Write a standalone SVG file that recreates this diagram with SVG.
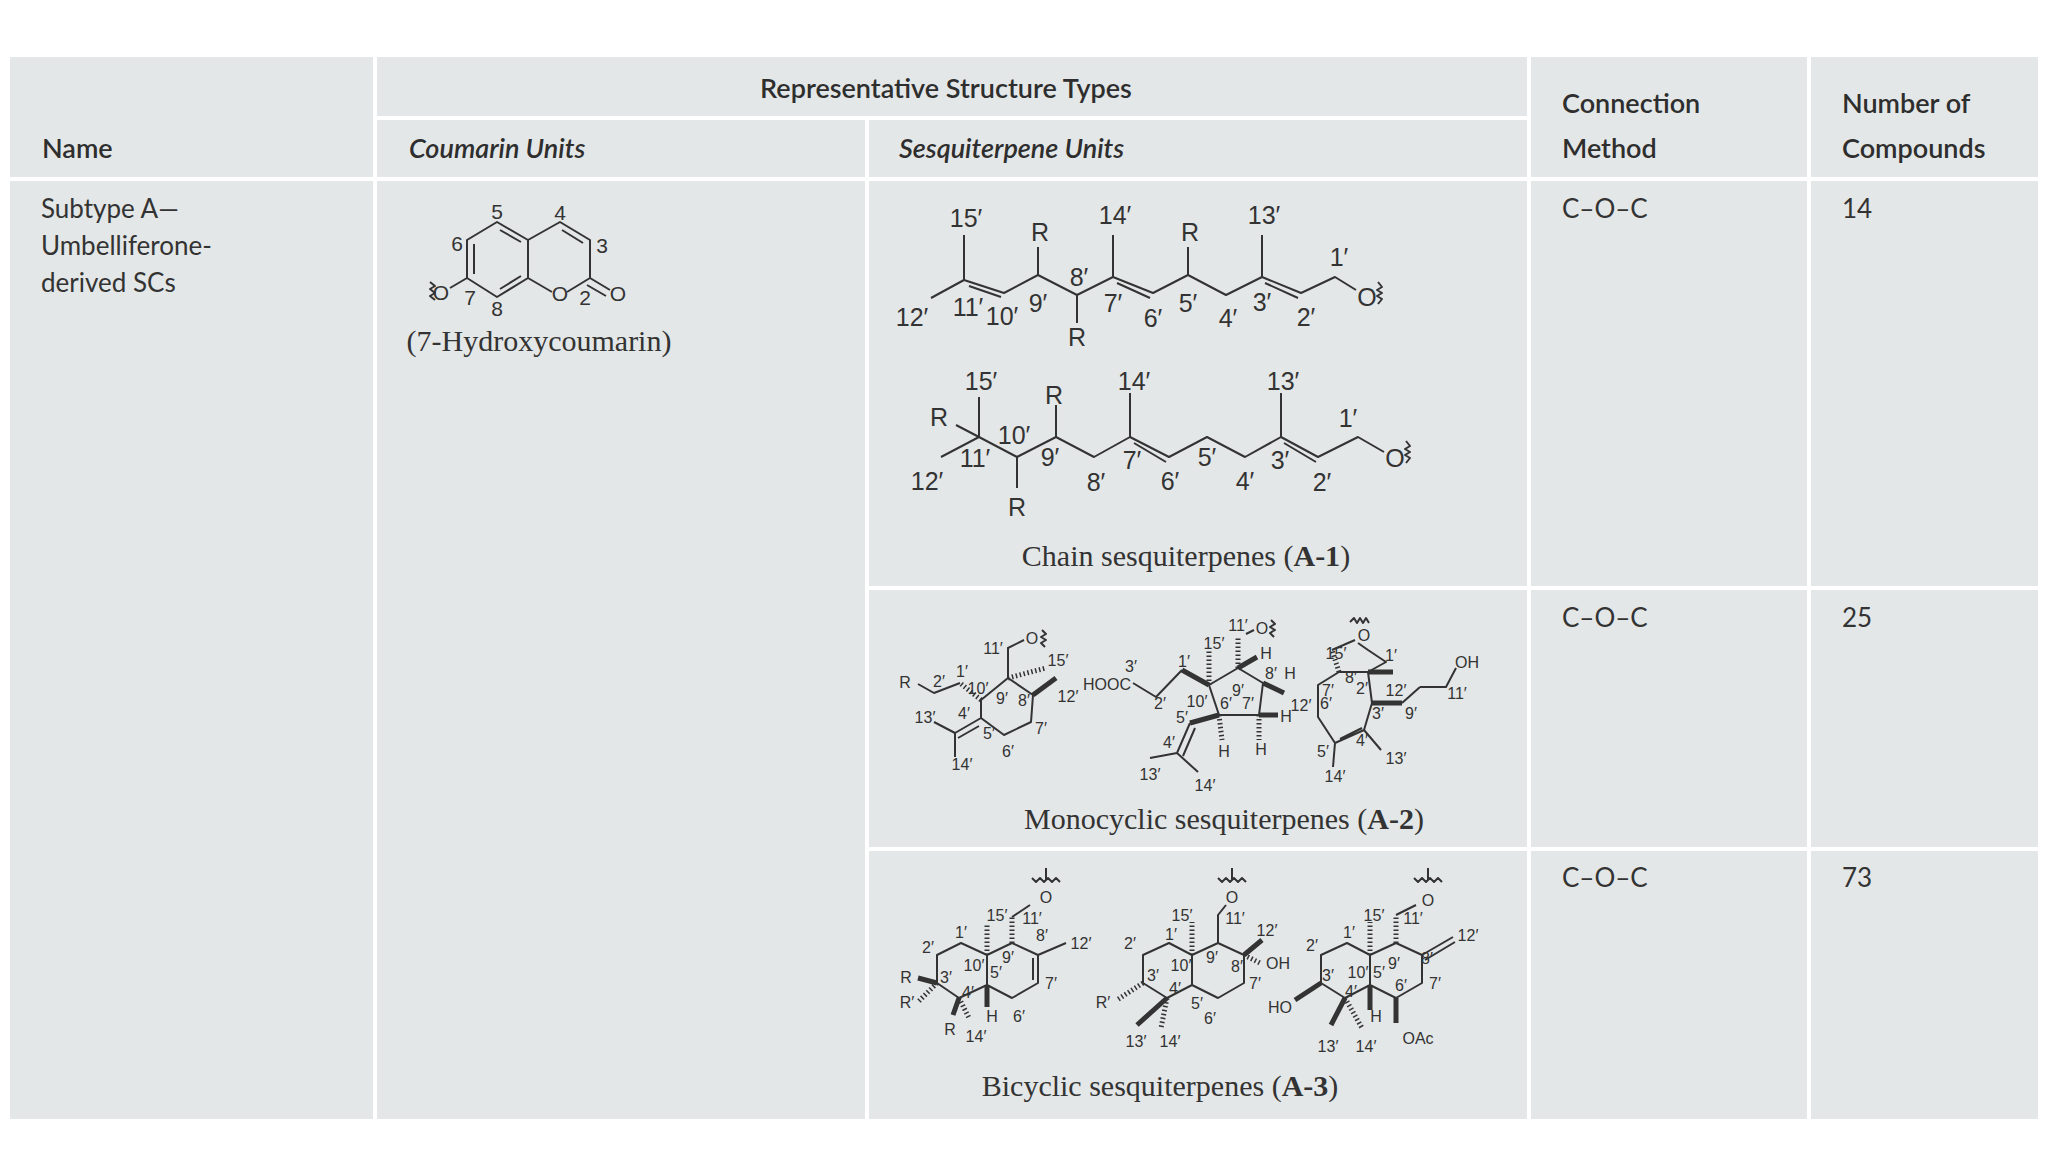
<svg xmlns="http://www.w3.org/2000/svg" width="2048" height="1152" viewBox="0 0 2048 1152">
<style>
.h{font-family:Lato,"Open Sans",sans-serif;font-size:27px;fill:#2e2e2e;font-weight:600}
.hi{font-family:Lato,"Open Sans",sans-serif;font-size:27px;fill:#2e2e2e;font-weight:600;font-style:italic}
.t{font-family:Lato,"Open Sans",sans-serif;font-size:26px;fill:#333}
.cap{font-family:"Liberation Serif",serif;font-size:30px;fill:#333;text-anchor:middle}
.l{font-family:"Liberation Sans",Arial,sans-serif;font-size:25px;fill:#333;text-anchor:middle;dominant-baseline:central}
.s{font-family:"Liberation Sans",Arial,sans-serif;font-size:16px;fill:#333;text-anchor:middle;dominant-baseline:central}
.b{stroke:#333;stroke-width:2;fill:none;stroke-linejoin:round}
.w{stroke:#333;stroke-width:5;fill:none}
.hs{stroke:#333;stroke-width:5;stroke-dasharray:1.5 2.5;fill:none}
.g{stroke:#fff;stroke-width:4}
</style>
<rect width="2048" height="1152" fill="#fff"/>
<rect x="10" y="57" width="2028" height="1062" fill="#e4e7e7"/>
<g id="grid">
<line class="g" x1="375" y1="57" x2="375" y2="1119"/>
<line class="g" x1="867" y1="118" x2="867" y2="1119"/>
<line class="g" x1="1529" y1="57" x2="1529" y2="1119"/>
<line class="g" x1="1809" y1="57" x2="1809" y2="1119"/>
<line class="g" x1="375" y1="118" x2="1529" y2="118"/>
<line class="g" x1="10" y1="179" x2="2038" y2="179"/>
<line class="g" x1="867" y1="588" x2="2038" y2="588"/>
<line class="g" x1="867" y1="849" x2="2038" y2="849"/>
</g>
<g id="headers">
<text class="h" x="946" y="98" text-anchor="middle">Representative Structure Types</text>
<text class="h" x="42" y="158">Name</text>
<text class="hi" x="409" y="158">Coumarin Units</text>
<text class="hi" x="899" y="158">Sesquiterpene Units</text>
<text class="h" x="1562" y="113">Connection</text>
<text class="h" x="1562" y="158">Method</text>
<text class="h" x="1842" y="113">Number of</text>
<text class="h" x="1842" y="158">Compounds</text>
</g>
<g id="cells">
<text class="t" x="41" y="218">Subtype A—</text>
<text class="t" x="41" y="255">Umbelliferone-</text>
<text class="t" x="41" y="292">derived SCs</text>
<text class="t" x="1562" y="218">C–O–C</text>
<text class="t" x="1842" y="218">14</text>
<text class="t" x="1562" y="627">C–O–C</text>
<text class="t" x="1842" y="627">25</text>
<text class="t" x="1562" y="887">C–O–C</text>
<text class="t" x="1842" y="887">73</text>
</g>
<g id="coumarin">
<path class="b" d="M497,222 L528,240 L528,278 L497,297 L467,278 L467,240 Z M528,240 L560,222 L590,240 L590,278 M528,278 L552,292 M567,292 L590,278"/>
<path class="b" d="M500,230 L521,242 M474,244 L474,274 M500,289 L521,276 M562,230 L583,243 M590,278 L610,290 M587,285 L606,296 M467,278 L450,288"/>
<path class="b" d="M430,282 l5,4 l-5,3 l5,4 l-5,3 l5,4"/>
<text class="l" style="font-size:21px" x="497" y="211">5</text>
<text class="l" style="font-size:21px" x="560" y="212">4</text>
<text class="l" style="font-size:21px" x="602" y="245">3</text>
<text class="l" style="font-size:21px" x="457" y="243">6</text>
<text class="l" style="font-size:21px" x="470" y="297">7</text>
<text class="l" style="font-size:21px" x="497" y="308">8</text>
<text class="l" style="font-size:21px" x="585" y="297">2</text>
<text class="l" style="font-size:21px" x="560" y="293">O</text>
<text class="l" style="font-size:21px" x="618" y="293">O</text>
<text class="l" style="font-size:21px" x="441" y="292">O</text>
<text class="cap" x="539" y="351">(7-Hydroxycoumarin)</text>
</g>
<g id="chain1">
<path class="b" d="M931,298 L964,280 L1004,293 L1038,275 L1077,295 L1113,277 L1153,293 L1188,275 L1226,295 L1262,277 L1301,293 L1335,277 L1356,290"/>
<path class="b" d="M969,286 L1001,297 M1117,283 L1150,298 M1265,283 L1298,298 M964,280 V235 M1038,275 V247 M1077,295 V323 M1113,277 V235 M1188,275 V247 M1262,277 V235"/>
<path class="b" d="M1378,282 l4,5 l-5,3 l5,3 l-5,3 l5,3 l-4,5"/>
<text class="l" x="966" y="218">15′</text><text class="l" x="1040" y="232">R</text>
<text class="l" x="1115" y="215">14′</text><text class="l" x="1190" y="232">R</text>
<text class="l" x="1264" y="215">13′</text><text class="l" x="1339" y="257">1′</text>
<text class="l" x="1079" y="277">8′</text><text class="l" x="912" y="317">12′</text>
<text class="l" x="968" y="307">11′</text><text class="l" x="1002" y="316">10′</text>
<text class="l" x="1038" y="303">9′</text><text class="l" x="1113" y="303">7′</text>
<text class="l" x="1153" y="318">6′</text><text class="l" x="1188" y="303">5′</text>
<text class="l" x="1228" y="318">4′</text><text class="l" x="1262" y="302">3′</text>
<text class="l" x="1306" y="317">2′</text><text class="l" x="1077" y="337">R</text>
<text class="l" x="1367" y="297">O</text>
</g>
<g id="chain2">
<path class="b" d="M941,457 L979,437 L1017,457 L1056,437 L1094,457 L1130,437 L1169,457 L1207,437 L1245,457 L1281,437 L1318,457 L1358,437 L1384,452"/>
<path class="b" d="M1134,443 L1166,462 M1284,443 L1316,462 M979,437 L956,425 M979,437 V397 M1056,437 V405 M1130,437 V393 M1281,437 V393 M1017,457 V488"/>
<path class="b" d="M1406,441 l4,5 l-5,3 l5,3 l-5,3 l5,3 l-4,5"/>
<text class="l" x="981" y="381">15′</text><text class="l" x="1054" y="395">R</text>
<text class="l" x="1134" y="381">14′</text><text class="l" x="1283" y="381">13′</text>
<text class="l" x="1348" y="418">1′</text><text class="l" x="939" y="417">R</text>
<text class="l" x="1014" y="435">10′</text><text class="l" x="975" y="458">11′</text>
<text class="l" x="927" y="481">12′</text><text class="l" x="1050" y="457">9′</text>
<text class="l" x="1096" y="482">8′</text><text class="l" x="1132" y="460">7′</text>
<text class="l" x="1170" y="481">6′</text><text class="l" x="1207" y="457">5′</text>
<text class="l" x="1245" y="481">4′</text><text class="l" x="1280" y="460">3′</text>
<text class="l" x="1322" y="482">2′</text><text class="l" x="1017" y="507">R</text>
<text class="l" x="1395" y="458">O</text>
<text class="cap" x="1186" y="566">Chain sesquiterpenes (<tspan font-weight="bold">A-1</tspan>)</text>
</g>
<g id="mono1">
<path class="b" d="M981,700 L1008,678 L1033,695 L1031,722 L1004,735 L981,718 Z M981,718 L955,733 L934,722 M955,733 V757 M958,738 L979,726 M1008,678 V648 L1024,640 M960,683 L934,693 L918,684"/>
<path class="hs" d="M981,700 L960,683 M1008,678 L1046,668"/>
<path class="w" d="M1033,695 L1056,678"/>
<path class="b" d="M1042,630 l4,4 l-5,3 l5,3 l-5,3 l4,4"/>
<text class="s" x="993" y="648">11′</text><text class="s" x="1032" y="638">O</text>
<text class="s" x="1058" y="660">15′</text><text class="s" x="978" y="688">10′</text>
<text class="s" x="962" y="671">1′</text><text class="s" x="939" y="681">2′</text>
<text class="s" x="905" y="682">R</text><text class="s" x="1002" y="698">9′</text>
<text class="s" x="1024" y="700">8′</text><text class="s" x="1068" y="696">12′</text>
<text class="s" x="925" y="717">13′</text><text class="s" x="964" y="713">4′</text>
<text class="s" x="989" y="733">5′</text><text class="s" x="1041" y="728">7′</text>
<text class="s" x="1008" y="751">6′</text><text class="s" x="962" y="764">14′</text>
</g>
<g id="mono2">
<path class="b" d="M1133,683 L1156,697 L1182,670 M1209,685 L1238,668 L1263,683 L1259,715 L1219,715 Z M1190,723 L1177,753 L1150,758 M1177,753 L1198,772 M1195,728 L1183,756 M1246,634 L1254,630"/>
<path class="w" d="M1182,670 L1209,685 M1238,668 L1257,657 M1263,683 L1284,693 M1219,715 L1190,723 M1259,715 L1278,715"/>
<path class="hs" d="M1209,685 V650 M1238,668 V638 M1219,715 L1222,740 M1259,715 V740"/>
<path class="b" d="M1271,620 l4,4 l-5,3 l5,3 l-5,3 l4,4"/>
<text class="s" x="1107" y="684">HOOC</text>
<text class="s" x="1238" y="625">11′</text><text class="s" x="1262" y="628">O</text>
<text class="s" x="1131" y="666">3′</text><text class="s" x="1184" y="661">1′</text>
<text class="s" x="1214" y="643">15′</text><text class="s" x="1266" y="653">H</text>
<text class="s" x="1238" y="690">9′</text><text class="s" x="1271" y="673">8′</text>
<text class="s" x="1290" y="673">H</text><text class="s" x="1160" y="703">2′</text>
<text class="s" x="1197" y="701">10′</text><text class="s" x="1226" y="703">6′</text>
<text class="s" x="1248" y="703">7′</text><text class="s" x="1301" y="705">12′</text>
<text class="s" x="1286" y="716">H</text><text class="s" x="1182" y="717">5′</text>
<text class="s" x="1169" y="742">4′</text><text class="s" x="1224" y="751">H</text>
<text class="s" x="1261" y="749">H</text><text class="s" x="1150" y="774">13′</text>
<text class="s" x="1205" y="785">14′</text>
</g>
<g id="mono3">
<path class="b" d="M1339,672 L1318,685 L1318,717 L1335,743 L1364,730 L1372,703 L1368,672 Z M1340,739 L1362,728 M1364,730 L1381,750 M1335,743 L1333,767 M1358,643 L1368,650 L1386,662 L1368,672 M1420,687 L1446,687 L1456,668 M1402,703 L1420,687"/>
<path class="hs" d="M1339,672 L1332,650"/>
<path class="b" d="M1332,650 L1355,640"/>
<path class="w" d="M1368,672 L1393,672 M1372,703 L1402,703"/>
<path class="b" d="M1350,622 l4,-4 l3,5 l3,-5 l3,5 l3,-5 l3,5"/>
<text class="s" x="1336" y="653">15′</text><text class="s" x="1364" y="635">O</text>
<text class="s" x="1391" y="655">1′</text><text class="s" x="1467" y="662">OH</text>
<text class="s" x="1351" y="677">8′</text><text class="s" x="1328" y="690">7′</text>
<text class="s" x="1362" y="688">2′</text><text class="s" x="1396" y="690">12′</text>
<text class="s" x="1457" y="693">11′</text><text class="s" x="1326" y="703">6′</text>
<text class="s" x="1378" y="713">3′</text><text class="s" x="1411" y="713">9′</text>
<text class="s" x="1323" y="751">5′</text><text class="s" x="1362" y="740">4′</text>
<text class="s" x="1396" y="758">13′</text><text class="s" x="1335" y="776">14′</text>
<text class="cap" x="1224" y="829">Monocyclic sesquiterpenes (<tspan font-weight="bold">A-2</tspan>)</text>
</g>
<g id="bi1">
<path class="b" d="M961,943 L937,955 L937,983 L959,998 L987,985 L987,955 Z M987,955 L1012,943 L1038,955 L1038,983 L1012,998 L987,985 M1033,958 L1033,980 M1038,955 L1066,943 M1012,917 L1030,905 M1046,880 V868"/>
<path class="hs" d="M987,955 V923 M1012,943 V917 M959,998 L969,1018 M937,983 L918,1002"/>
<path class="w" d="M937,983 L918,978 M959,998 L953,1015 M987,985 V1007"/>
<path class="b" d="M1032,878 l4,4 l4,-4 l4,4 l4,-4 l4,4 l4,-4 l4,4"/>
<text class="s" x="1046" y="897">O</text><text class="s" x="997" y="915">15′</text>
<text class="s" x="1032" y="918">11′</text><text class="s" x="961" y="932">1′</text>
<text class="s" x="1081" y="943">12′</text><text class="s" x="1042" y="935">8′</text>
<text class="s" x="928" y="947">2′</text><text class="s" x="974" y="965">10′</text>
<text class="s" x="1008" y="957">9′</text><text class="s" x="996" y="972">5′</text>
<text class="s" x="1051" y="983">7′</text><text class="s" x="906" y="977">R</text>
<text class="s" x="946" y="977">3′</text><text class="s" x="907" y="1002">R′</text>
<text class="s" x="968" y="992">4′</text><text class="s" x="992" y="1016">H</text>
<text class="s" x="1019" y="1016">6′</text><text class="s" x="950" y="1029">R</text>
<text class="s" x="976" y="1036">14′</text>
</g>
<g id="bi2">
<path class="b" d="M1169,943 L1143,955 L1143,983 L1167,998 L1192,985 L1192,955 Z M1192,955 L1218,943 L1244,955 L1244,983 L1218,998 L1192,985 M1218,943 V915 L1226,905 M1232,880 V868"/>
<path class="hs" d="M1192,955 V922 M1244,955 L1260,963 M1143,983 L1117,1000 M1167,998 L1161,1028"/>
<path class="w" d="M1244,955 L1262,940 M1167,998 L1137,1025"/>
<path class="b" d="M1218,878 l4,4 l4,-4 l4,4 l4,-4 l4,4 l4,-4 l4,4"/>
<text class="s" x="1232" y="897">O</text><text class="s" x="1182" y="915">15′</text>
<text class="s" x="1235" y="918">11′</text><text class="s" x="1267" y="930">12′</text>
<text class="s" x="1171" y="934">1′</text><text class="s" x="1130" y="943">2′</text>
<text class="s" x="1181" y="965">10′</text><text class="s" x="1212" y="957">9′</text>
<text class="s" x="1237" y="966">8′</text><text class="s" x="1278" y="963">OH</text>
<text class="s" x="1153" y="975">3′</text><text class="s" x="1175" y="988">4′</text>
<text class="s" x="1197" y="1003">5′</text><text class="s" x="1255" y="983">7′</text>
<text class="s" x="1103" y="1002">R′</text><text class="s" x="1210" y="1018">6′</text>
<text class="s" x="1136" y="1041">13′</text><text class="s" x="1170" y="1041">14′</text>
</g>
<g id="bi3">
<path class="b" d="M1347,943 L1321,955 L1321,983 L1345,998 L1370,985 L1370,955 Z M1370,955 L1396,943 L1422,955 L1422,983 L1396,998 L1370,985 M1422,955 L1453,937 M1425,960 L1455,942 M1396,915 L1416,905 M1428,880 V868"/>
<path class="hs" d="M1370,955 V922 M1396,943 V915 M1345,998 L1362,1028"/>
<path class="w" d="M1321,983 L1295,1000 M1345,998 L1331,1025 M1370,985 V1010 M1396,998 V1023"/>
<path class="b" d="M1414,878 l4,4 l4,-4 l4,4 l4,-4 l4,4 l4,-4 l4,4"/>
<text class="s" x="1428" y="900">O</text><text class="s" x="1374" y="915">15′</text>
<text class="s" x="1413" y="918">11′</text><text class="s" x="1468" y="935">12′</text>
<text class="s" x="1349" y="932">1′</text><text class="s" x="1312" y="945">2′</text>
<text class="s" x="1358" y="972">10′</text><text class="s" x="1394" y="963">9′</text>
<text class="s" x="1427" y="958">8′</text><text class="s" x="1328" y="975">3′</text>
<text class="s" x="1379" y="972">5′</text><text class="s" x="1401" y="985">6′</text>
<text class="s" x="1435" y="983">7′</text><text class="s" x="1280" y="1007">HO</text>
<text class="s" x="1351" y="991">4′</text><text class="s" x="1376" y="1016">H</text>
<text class="s" x="1418" y="1038">OAc</text><text class="s" x="1328" y="1046">13′</text>
<text class="s" x="1366" y="1046">14′</text>
<text class="cap" x="1160" y="1096">Bicyclic sesquiterpenes (<tspan font-weight="bold">A-3</tspan>)</text>
</g>
</svg>
